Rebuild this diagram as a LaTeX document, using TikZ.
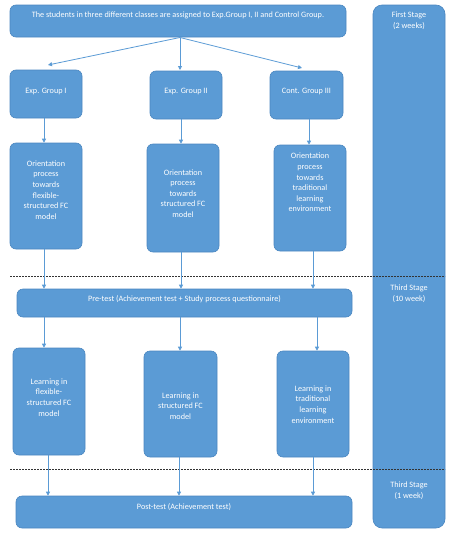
\documentclass[tikz,border=0pt]{standalone}
\usepackage{fontspec}
\setmainfont{Carlito}
\usetikzlibrary{arrows.meta}
\definecolor{boxblue}{HTML}{5B9BD5}
\definecolor{boxedge}{HTML}{4A86C0}
\definecolor{arrblue}{HTML}{5B9BD5}
\tikzset{
  box/.style={rectangle, rounded corners=6pt, fill=boxblue, draw=boxedge, line width=0.6pt, inner sep=0pt},
  txt/.style={text=white, align=center, font=\fontsize{8.2}{10.6}\selectfont, inner sep=0pt},
  arr/.style={draw=arrblue, line width=0.8pt, -{Triangle[width=4pt,length=4pt]}},
  sep/.style={draw=black!80, line width=0.9pt, dash pattern=on 2pt off 1pt}
}
\begin{document}
\begin{tikzpicture}[x=1pt,y=-1pt]
\useasboundingbox (0,0) rectangle (474,533);
% stage column
\node[box, minimum width=72pt, minimum height=523pt, rounded corners=9pt] (stage) at (409,266.5) {};
\node[txt] (s1) at (409,20.5) {First Stage\\(2 weeks)};
\node[txt] (s2) at (409,293.5) {Third Stage\\(10 week)};
\node[txt] (s3) at (409,491) {Third Stage\\(1 week)};
% top
\node[box, minimum width=336pt, minimum height=32pt] (top) at (178,21) {};
\node[txt] (toptxt) at (178,15) {The students in three different classes are assigned to Exp.Group I, II and Control Group.};
% groups
\node[box, minimum width=72pt, minimum height=48pt] (g1) at (46,94) {};
\node[box, minimum width=72pt, minimum height=48pt] (g2) at (186,95) {};
\node[box, minimum width=73pt, minimum height=48pt] (g3) at (306.5,95) {};
\node[txt] at (46,91) {Exp. Group I};
\node[txt] at (186,91) {Exp. Group II};
\node[txt] at (306.5,91) {Cont. Group III};
% orientation
\node[box, minimum width=72pt, minimum height=106pt] (o1) at (46,196) {};
\node[box, minimum width=72pt, minimum height=108pt] (o2) at (183,198) {};
\node[box, minimum width=72pt, minimum height=106pt] (o3) at (310,198) {};
\node[txt] at (46,190) {Orientation\\process\\towards\\flexible-\\structured FC\\model};
\node[txt] at (183,193.5) {Orientation\\process\\towards\\structured FC\\model};
\node[txt] at (310,182.5) {Orientation\\process\\towards\\traditional\\learning\\environment};
% separators
\draw[sep] (10,276) -- (445,276);
\draw[sep] (10,469) -- (445,469);
% pre-test
\node[box, minimum width=335pt, minimum height=28pt] (pre) at (184.5,303) {};
\node[txt] at (184.5,299) {Pre-test (Achievement test + Study process questionnaire)};
% learning
\node[box, minimum width=72pt, minimum height=107pt] (l1) at (49,401.5) {};
\node[box, minimum width=73pt, minimum height=106pt] (l2) at (180.5,404) {};
\node[box, minimum width=72pt, minimum height=106pt] (l3) at (313,404) {};
\node[txt] at (49,397.5) {Learning in\\flexible-\\structured FC\\model};
\node[txt] at (180.5,406) {Learning in\\structured FC\\model};
\node[txt] at (313,404.5) {Learning in\\traditional\\learning\\environment};
% post-test
\node[box, minimum width=336pt, minimum height=32pt] (post) at (184,512) {};
\node[txt] at (184,507) {Post-test (Achievement test)};
% connectors
\coordinate (src) at (180,37.5);
\coordinate (t1) at (48,65);
\coordinate (t2) at (180,70);
\coordinate (t3) at (302,68);
\draw[arr] (src) -- (t1);
\draw[arr] (src) -- (t2);
\draw[arr] (src) -- (t3);
\coordinate (a1) at (44,118);
\coordinate (a2) at (181,119);
\coordinate (a3) at (309,119);
\draw[arr] (a1) -- (a1 |- o1.north);
\draw[arr] (a2) -- (a2 |- o2.north);
\draw[arr] (a3) -- (a3 |- o3.north);
\coordinate (b1) at (44,249);
\coordinate (b2) at (181,252);
\coordinate (b3) at (313,251);
\draw[arr] (b1) -- (b1 |- pre.north);
\draw[arr] (b2) -- (b2 |- pre.north);
\draw[arr] (b3) -- (b3 |- pre.north);
\coordinate (c1) at (44,317);
\coordinate (c2) at (180,317);
\coordinate (c3) at (317,317);
\draw[arr] (c1) -- (c1 |- l1.north);
\draw[arr] (c2) -- (c2 |- l2.north);
\draw[arr] (c3) -- (c3 |- l3.north);
\coordinate (d1) at (48,455);
\coordinate (d2) at (179,457);
\coordinate (d3) at (313,457);
\draw[arr] (d1) -- (d1 |- post.north);
\draw[arr] (d2) -- (d2 |- post.north);
\draw[arr] (d3) -- (d3 |- post.north);
\end{tikzpicture}
\end{document}
